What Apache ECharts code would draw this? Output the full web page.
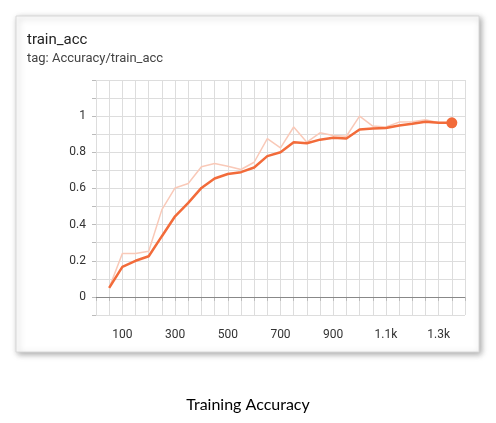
<!DOCTYPE html>
<html><head><meta charset="utf-8">
<script src="https://cdn.jsdelivr.net/npm/echarts@6/dist/echarts.min.js"></script>
<style>html,body{margin:0;padding:0;background:#fff}#c{width:496px;height:423px}</style>
</head><body><div id="c"></div>
<script>
const steps = [50,100,150,200,250,300,350,400,450,500,550,600,650,700,750,800,850,900,950,1000,1050,1100,1150,1200,1250,1300,1350];
const smoothed = [0.05,0.166,0.20,0.225,0.336,0.446,0.52,0.603,0.655,0.68,0.69,0.716,0.779,0.80,0.856,0.85,0.87,0.88,0.876,0.926,0.932,0.935,0.948,0.958,0.969,0.963,0.963];
const raw = [0.05,0.24,0.24,0.253,0.483,0.603,0.627,0.72,0.738,0.723,0.705,0.745,0.876,0.825,0.94,0.856,0.908,0.893,0.889,1.0,0.945,0.94,0.967,0.969,0.98,0.963,0.963];
const chartTitle = 'train_acc';
const chartSub = 'tag: Accuracy/train_acc';
const caption = 'Training Accuracy';

const chart = echarts.init(document.getElementById('c'));
const fmtX = v => { if ((v-100)%200!==0 || v<100) return ''; return v>=1000 ? (v/1000).toFixed(1)+'k' : String(v); };
const fmtY = v => { const r=Math.round(v*10); if (r<0 || r>10 || r%2!==0) return ''; return String(+(v.toFixed(1))); };
chart.setOption({
  animation:false,
  graphic:[
    {type:'rect', shape:{x:16,y:16,width:463,height:336}, style:{fill:'#fff',stroke:'#d8d8d8',lineWidth:1,shadowBlur:6,shadowColor:'rgba(0,0,0,0.35)',shadowOffsetX:2,shadowOffsetY:2}, z:-10},
    {type:'text', left:'center', top:397, style:{text:caption, font:'16px Lato, sans-serif', fill:'#000'}}
  ],
  title:{text:chartTitle, subtext:chartSub, left:22, top:28, itemGap:4,
    textStyle:{fontFamily:'Roboto',fontSize:15,fontWeight:'normal',color:'#222'},
    subtextStyle:{fontFamily:'Roboto',fontSize:13,color:'#444'}},
  grid:{left:96, right:31, top:80, bottom:108},
  xAxis:{type:'value', min:0, max:1400, interval:50,
    axisLine:{show:false}, axisTick:{show:true,length:4,lineStyle:{color:'#bbb'}},
    axisLabel:{formatter:fmtX, color:'#333', fontFamily:'Roboto', fontSize:12, margin:14, showMinLabel:true, showMaxLabel:true},
    splitLine:{show:true,lineStyle:{color:'#ddd'}}},
  yAxis:{type:'value', min:-0.1, max:1.2, interval:0.1,
    axisLine:{show:false}, axisTick:{show:true,length:4,lineStyle:{color:'#bbb'}},
    axisLabel:{formatter:fmtY, color:'#333', fontFamily:'Roboto', fontSize:12, margin:10},
    splitLine:{show:true,lineStyle:{color:'#ddd'}}},
  series:[
    {type:'line', data:steps.map((s,i)=>[s,raw[i]]), symbol:'none', lineStyle:{color:'#f9c9b8',width:1.5}, z:2},
    {type:'line', data:steps.map((s,i)=>[s,smoothed[i]]), showSymbol:true, symbol:'circle', symbolSize:(v,p)=>p.dataIndex===steps.length-1?11:0, itemStyle:{color:'#f26b3a'}, lineStyle:{color:'#f26b3a',width:2.5}, z:3,
     markLine:{silent:true, symbol:'none', label:{show:false}, lineStyle:{color:'#888',width:1.2,type:'solid'}, data:[{yAxis:0}]}}
  ]
});
</script></body></html>
